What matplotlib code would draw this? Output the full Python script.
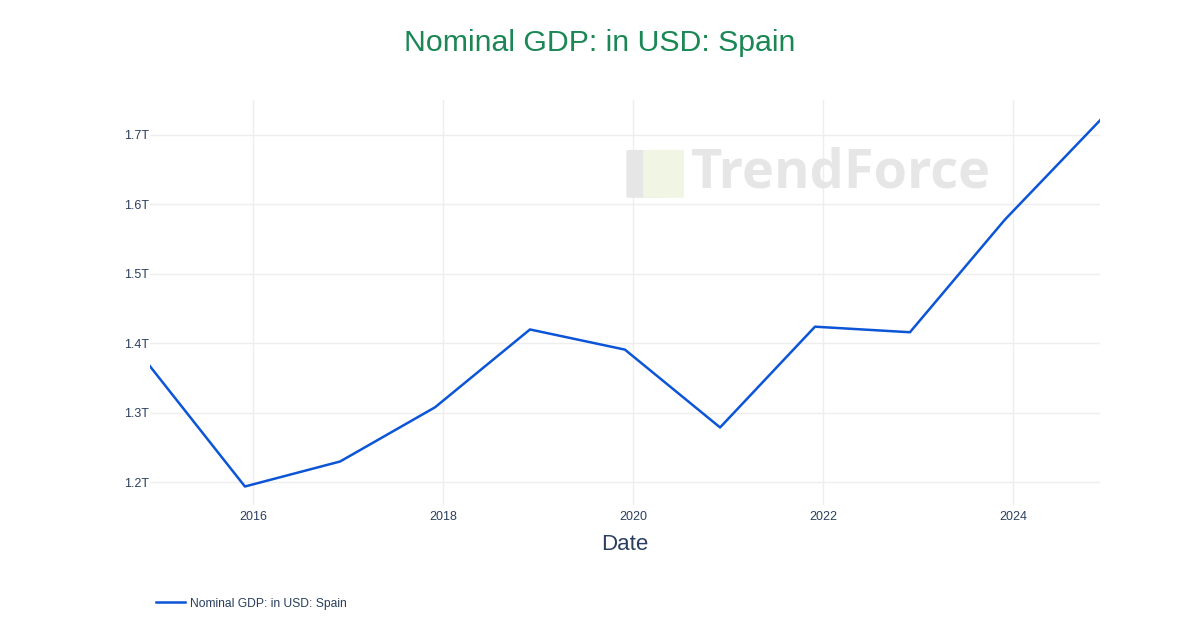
import matplotlib
matplotlib.use("Agg")
import matplotlib.pyplot as plt
import matplotlib.dates as mdates
from matplotlib.patches import FancyBboxPatch
import pandas as pd

dates = pd.to_datetime(["2014-12-01", "2015-12-01", "2016-12-01", "2017-12-01", "2018-12-01",
                        "2019-12-01", "2020-12-01", "2021-12-01", "2022-12-01", "2023-12-01",
                        "2024-12-01"])
gdp_trillions = [1.367, 1.194, 1.230, 1.308, 1.420, 1.391, 1.279, 1.424, 1.416, 1.578, 1.721]
series_name = "Nominal GDP: in USD: Spain"
y_ticks = [1.2, 1.3, 1.4, 1.5, 1.6, 1.7]
x_ticks = pd.to_datetime(["2016-01-01", "2018-01-01", "2020-01-01", "2022-01-01", "2024-01-01"])

text_color = "#2a3f5f"
line_color = "#0b55d6"
plt.rcParams["font.family"] = ["Liberation Sans", "DejaVu Sans"]

fig = plt.figure(figsize=(12, 6.3), dpi=100)
ax = fig.add_axes([0.125, 0.198, 0.7917, 0.643])

# faint watermark
fig.text(0.576, 0.725, "TrendForce", fontsize=39, fontweight="bold", color="#e6e6e6",
         ha="left", va="center", zorder=0, family="Open Sans")
fig.patches.append(FancyBboxPatch((0.524, 0.688), 0.026, 0.072, boxstyle="round,pad=0.002",
                                  transform=fig.transFigure, fc="#e6e6e6", ec="none", zorder=0))
fig.patches.append(FancyBboxPatch((0.538, 0.688), 0.030, 0.072, boxstyle="round,pad=0.002",
                                  transform=fig.transFigure, fc="#f1f6e4", ec="none", zorder=0))
ax.patch.set_alpha(0)

line, = ax.plot(dates, gdp_trillions, color=line_color, linewidth=1.8, label=series_name, zorder=3)

ax.set_xlim(dates[0], dates[-1])
ax.set_ylim(1.167, 1.75)
ax.set_yticks(y_ticks)
ax.set_yticklabels([f"{v:.1f}T" for v in y_ticks])
ax.set_xticks(x_ticks)
ax.xaxis.set_major_formatter(mdates.DateFormatter("%Y"))
ax.grid(True, color="#eeeeee", linewidth=1)
ax.set_axisbelow(True)
for s in ax.spines.values():
    s.set_visible(False)
ax.tick_params(length=0, labelsize=9, colors=text_color)
ax.tick_params(axis="y", pad=1)
ax.tick_params(axis="x", pad=4)
ax.set_xlabel("Date", fontsize=16, color=text_color, labelpad=8)

fig.suptitle(series_name, x=0.5, y=0.932, fontsize=21.8, color="#1a8754", va="center")

fig.legend(handles=[line], loc="center left", bbox_to_anchor=(0.121, 0.042), frameon=False,
           fontsize=8.7, labelcolor=text_color, handlelength=2.4, handletextpad=0.4)

fig.savefig("out.png", dpi=100)
